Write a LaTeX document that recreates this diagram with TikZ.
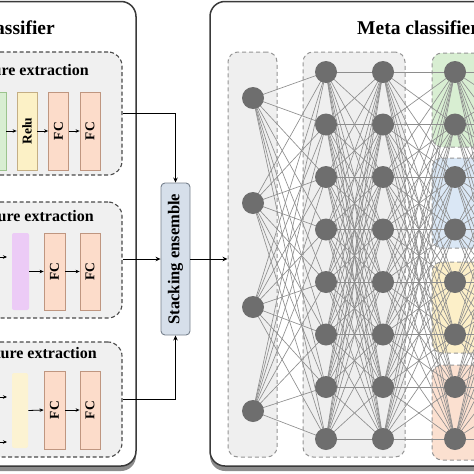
\documentclass[tikz,border=0pt]{standalone}
\usepackage{fontspec}
\usepackage{graphicx}
\setmainfont{Liberation Serif}
\usetikzlibrary{arrows.meta}
\definecolor{bdark}{HTML}{3A3A3A}
\definecolor{shadowgray}{HTML}{8C8C8C}
\definecolor{featgray}{HTML}{F0F0F0}
\definecolor{fdark}{HTML}{4A4A4A}
\definecolor{laygray}{HTML}{EFEFEF}
\definecolor{laydash}{HTML}{959595}
\definecolor{ngray}{HTML}{6E6E6E}
\definecolor{linkgray}{HTML}{8E8E8E}
\definecolor{grnfill}{HTML}{D8EED2}
\definecolor{bluefill}{HTML}{DAE7F5}
\definecolor{yelfill}{HTML}{FCEFC8}
\definecolor{orgfill}{HTML}{FBE0D0}
\definecolor{relufill}{HTML}{FCF1C6}
\definecolor{reludraw}{HTML}{C4AE84}
\definecolor{grndraw}{HTML}{9CC48E}
\definecolor{fcfill}{HTML}{FCDCCA}
\definecolor{fcdraw}{HTML}{BF9680}
\definecolor{purpfill}{HTML}{ECCBF6}
\definecolor{paleyel}{HTML}{FCF3D2}
\definecolor{stackfill}{HTML}{D6DFEA}
\definecolor{stackdraw}{HTML}{76808C}
\begin{document}
\begin{tikzpicture}[x=1pt,y=-1pt,
  bigbox/.style={draw=bdark, line width=1.5pt, fill=white, rounded corners=15pt},
  shadowbox/.style={fill=shadowgray, rounded corners=15pt},
  featbox/.style={draw=fdark, dash pattern=on 4pt off 2.5pt, line width=1.1pt, fill=featgray, rounded corners=14pt, inner sep=0pt},
  laybox/.style={draw=laydash, dash pattern=on 4pt off 3pt, line width=1pt, rounded corners=10pt, inner sep=0pt},
  blk/.style={rectangle, inner sep=0pt, line width=0.8pt, font=\bfseries\fontsize{13.5}{14}\selectfont},
  fcblk/.style={blk, draw=fcdraw, fill=fcfill, minimum width=20pt},
  neuron/.style={circle, fill=ngray, minimum size=22pt, inner sep=0pt},
  link/.style={draw=linkgray, line width=0.65pt},
  conn/.style={draw=black, line width=0.9pt, -{Stealth[length=5pt,width=4.5pt]}},
  small/.style={draw=black, line width=0.8pt, -{Stealth[length=4pt,width=3.5pt]}},
  title/.style={font=\bfseries\fontsize{19.5}{22}\selectfont, inner sep=0pt},
  ftitle/.style={font=\bfseries\fontsize{16}{18}\selectfont, inner sep=0pt}
]
\useasboundingbox (0,0) rectangle (474,474);
\clip (0,0) rectangle (474,474);

% big boxes with shadows
\fill[shadowbox] (-40,6) rectangle (136,471);
\fill[shadowbox] (210,6) rectangle (530,471);
\draw[bigbox] (-40,1.5) rectangle (136,466);
\draw[bigbox] (210,1.5) rectangle (530,466);

\node[title, anchor=base east] (lt) at (55,34) {classifier};
\node[title, anchor=base west] (rt) at (357,34) {Meta classifier};

% feature extraction boxes
\node[featbox, minimum width=162pt, minimum height=123pt] (fe1) at (41,113.5) {};
\node[featbox, minimum width=162pt, minimum height=116pt] (fe2) at (41,260) {};
\node[featbox, minimum width=162pt, minimum height=115pt] (fe3) at (41,399.5) {};
\node[ftitle, anchor=base east] (ft1) at (89,75) {Feature extraction};
\node[ftitle, anchor=base east] (ft2) at (94,221) {Feature extraction};
\node[ftitle, anchor=base east] (ft3) at (97,358) {Feature extraction};

% box 1 blocks
\node[blk, draw=grndraw, fill=grnfill, minimum width=26pt, minimum height=78pt] (g1) at (-7,131) {};
\node[blk, draw=reludraw, fill=relufill, minimum width=20pt, minimum height=78pt] (relu) at (27,131) {\rotatebox{90}{Relu}};
\node[fcblk, minimum height=78pt] (fc11) at (58.5,131) {\rotatebox{90}{FC}};
\node[fcblk, minimum height=78pt] (fc12) at (90,131) {\rotatebox{90}{FC}};
\draw[small] (g1.east) -- (relu.west);
\draw[small] (relu.east) -- (fc11.west);
\draw[small] (fc11.east) -- (fc12.west);

% box 2 blocks
\node[blk, fill=purpfill, minimum width=17pt, minimum height=77pt, rounded corners=2pt] (p2) at (20.5,271.5) {};
\node[fcblk, minimum width=21pt, minimum height=77pt] (fc21) at (54.5,271.5) {\rotatebox{90}{FC}};
\node[fcblk, minimum height=77pt] (fc22) at (90,271.5) {\rotatebox{90}{FC}};
\coordinate (a2s) at (-10,257);
\coordinate (a2e) at (7,257);
\draw[small] (a2s) -- (a2e);
\draw[small] (p2.east) -- (fc21.west);
\draw[small] (fc21.east) -- (fc22.west);

% box 3 blocks
\node[blk, fill=paleyel, minimum width=16pt, minimum height=75pt, rounded corners=2pt] (y3) at (20,410.5) {};
\node[fcblk, minimum width=21pt, minimum height=78pt] (fc31) at (54.5,410) {\rotatebox{90}{FC}};
\node[fcblk, minimum height=78pt] (fc32) at (90,410) {\rotatebox{90}{FC}};
\coordinate (a3s) at (-10,397);
\coordinate (a3e) at (7,397);
\coordinate (a4s) at (-10,442);
\coordinate (a4e) at (7,442);
\draw[small] (a3s) -- (a3e);
\draw[small] (a4s) -- (a4e);
\draw[small] (y3.east) -- (fc31.west);
\draw[small] (fc31.east) -- (fc32.west);

% stacking ensemble
\node[draw=stackdraw, fill=stackfill, line width=0.9pt, rounded corners=4pt, minimum width=29pt, minimum height=152pt, inner sep=0pt,
      font=\bfseries\fontsize{16.5}{18}\selectfont] (stack) at (175.5,259) {\rotatebox{90}{Stacking ensemble}};

% layer boxes in meta classifier
\node[laybox, fill=laygray, minimum width=49pt, minimum height=405pt] (inbox) at (252.5,254.5) {};
\node[laybox, fill=laygray, minimum width=102pt, minimum height=405pt] (hidbox) at (354,254.5) {};
\node[laybox, fill=grnfill, minimum width=60pt, minimum height=94pt] (ob1) at (462,100) {};
\node[laybox, fill=bluefill, minimum width=60pt, minimum height=90pt] (ob2) at (462,203) {};
\node[laybox, fill=yelfill, minimum width=60pt, minimum height=91pt] (ob3) at (462,307.5) {};
\node[laybox, fill=orgfill, minimum width=60pt, minimum height=95pt] (ob4) at (462,412.5) {};

% connectors
\draw[conn] (fe1.east) -| (stack.north);
\draw[conn] (fe2.east |- stack.west) -- (stack.west);
\draw[conn] (fe3.east) -| (stack.south);
\draw[conn] (stack.east) -- (stack.east -| inbox.west);

% neurons positions
\foreach \i/\y in {1/98,2/203,3/307,4/411} {\coordinate (i\i) at (253,\y);}
\foreach \i/\y in {1/72,2/124.5,3/177,4/229.5,5/282,6/334.5,7/387,8/439} {
  \coordinate (h\i) at (326,\y);
  \coordinate (k\i) at (383,\y);
  \coordinate (o\i) at (455,\y);
  \coordinate (n\i) at (535,\y);
}
% links
\foreach \a in {1,...,4} {\foreach \b in {1,...,8} {\draw[link] (i\a) -- (h\b);}}
\foreach \a in {1,...,8} {\foreach \b in {1,...,8} {
  \draw[link] (h\a) -- (k\b);
  \draw[link] (k\a) -- (o\b);
  \draw[link] (o\a) -- (n\b);
}}
% neurons
\foreach \i in {1,...,4} {\node[neuron] (ni\i) at (i\i) {};}
\foreach \i in {1,...,8} {
  \node[neuron] (nh\i) at (h\i) {};
  \node[neuron] (nk\i) at (k\i) {};
  \node[neuron] (no\i) at (o\i) {};
}
\end{tikzpicture}
\end{document}
